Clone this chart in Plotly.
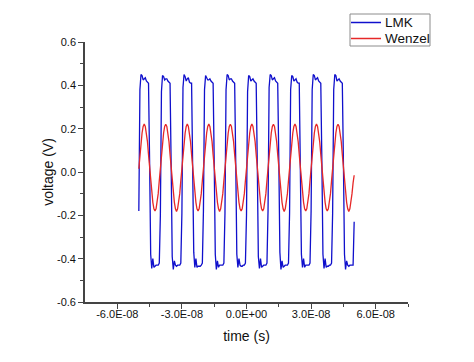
import plotly.graph_objects as go

# time samples in ns (0.5 ns step)
time_ns = [
    -50.0, -49.5, -49.0, -48.5, -48.0, -47.5, -47.0, -46.5, -46.0, -45.5,
    -45.0, -44.5, -44.0, -43.5, -43.0, -42.5, -42.0, -41.5, -41.0, -40.5,
    -40.0, -39.5, -39.0, -38.5, -38.0, -37.5, -37.0, -36.5, -36.0, -35.5,
    -35.0, -34.5, -34.0, -33.5, -33.0, -32.5, -32.0, -31.5, -31.0, -30.5,
    -30.0, -29.5, -29.0, -28.5, -28.0, -27.5, -27.0, -26.5, -26.0, -25.5,
    -25.0, -24.5, -24.0, -23.5, -23.0, -22.5, -22.0, -21.5, -21.0, -20.5,
    -20.0, -19.5, -19.0, -18.5, -18.0, -17.5, -17.0, -16.5, -16.0, -15.5,
    -15.0, -14.5, -14.0, -13.5, -13.0, -12.5, -12.0, -11.5, -11.0, -10.5,
    -10.0, -9.5, -9.0, -8.5, -8.0, -7.5, -7.0, -6.5, -6.0, -5.5,
    -5.0, -4.5, -4.0, -3.5, -3.0, -2.5, -2.0, -1.5, -1.0, -0.5,
    0.0, 0.5, 1.0, 1.5, 2.0, 2.5, 3.0, 3.5, 4.0, 4.5,
    5.0, 5.5, 6.0, 6.5, 7.0, 7.5, 8.0, 8.5, 9.0, 9.5,
    10.0, 10.5, 11.0, 11.5, 12.0, 12.5, 13.0, 13.5, 14.0, 14.5,
    15.0, 15.5, 16.0, 16.5, 17.0, 17.5, 18.0, 18.5, 19.0, 19.5,
    20.0, 20.5, 21.0, 21.5, 22.0, 22.5, 23.0, 23.5, 24.0, 24.5,
    25.0, 25.5, 26.0, 26.5, 27.0, 27.5, 28.0, 28.5, 29.0, 29.5,
    30.0, 30.5, 31.0, 31.5, 32.0, 32.5, 33.0, 33.5, 34.0, 34.5,
    35.0, 35.5, 36.0, 36.5, 37.0, 37.5, 38.0, 38.5, 39.0, 39.5,
    40.0, 40.5, 41.0, 41.5, 42.0, 42.5, 43.0, 43.5, 44.0, 44.5,
    45.0, 45.5, 46.0, 46.5, 47.0, 47.5, 48.0, 48.5, 49.0, 49.5,
    50.0,
]

# LMK voltage (V)
lmk_v = [
    -0.18, 0.38, 0.45, 0.445, 0.425, 0.43, 0.435, 0.42, 0.415, 0.41,
    0.05, -0.38, -0.445, -0.40, -0.44, -0.435, -0.43, -0.43, -0.43, -0.42,
    -0.20, 0.37, 0.445, 0.44, 0.425, 0.43, 0.43, 0.42, 0.415, 0.41,
    0.04, -0.39, -0.45, -0.41, -0.43, -0.435, -0.43, -0.43, -0.43, -0.42,
    -0.19, 0.39, 0.45, 0.44, 0.42, 0.43, 0.435, 0.415, 0.41, 0.41,
    0.06, -0.37, -0.44, -0.40, -0.44, -0.435, -0.435, -0.435, -0.43, -0.42,
    -0.18, 0.38, 0.445, 0.435, 0.425, 0.425, 0.43, 0.42, 0.415, 0.41,
    0.05, -0.38, -0.45, -0.41, -0.44, -0.43, -0.43, -0.43, -0.43, -0.42,
    -0.19, 0.38, 0.45, 0.445, 0.425, 0.43, 0.43, 0.42, 0.415, 0.41,
    0.05, -0.38, -0.44, -0.40, -0.43, -0.435, -0.435, -0.43, -0.43, -0.42,
    -0.20, 0.37, 0.445, 0.44, 0.42, 0.425, 0.43, 0.42, 0.415, 0.41,
    0.04, -0.39, -0.445, -0.40, -0.44, -0.435, -0.43, -0.43, -0.43, -0.42,
    -0.18, 0.39, 0.45, 0.445, 0.425, 0.43, 0.435, 0.42, 0.415, 0.41,
    0.06, -0.37, -0.45, -0.41, -0.44, -0.435, -0.43, -0.43, -0.43, -0.42,
    -0.19, 0.38, 0.445, 0.44, 0.42, 0.425, 0.43, 0.415, 0.41, 0.41,
    0.05, -0.38, -0.44, -0.40, -0.44, -0.43, -0.43, -0.43, -0.43, -0.42,
    -0.18, 0.38, 0.45, 0.445, 0.425, 0.43, 0.435, 0.42, 0.415, 0.41,
    0.05, -0.38, -0.445, -0.40, -0.44, -0.435, -0.435, -0.43, -0.43, -0.42,
    -0.19, 0.38, 0.45, 0.445, 0.42, 0.425, 0.43, 0.42, 0.415, 0.41,
    0.05, -0.38, -0.45, -0.41, -0.43, -0.435, -0.43, -0.43, -0.43, -0.43,
    -0.23,
]

# Wenzel voltage (V)
wenzel_v = [
    0.015, 0.08, 0.14, 0.18, 0.21, 0.222, 0.21, 0.18, 0.14, 0.08,
    0.02, -0.04, -0.10, -0.14, -0.17, -0.18, -0.17, -0.14, -0.10, -0.04,
    0.02, 0.08, 0.14, 0.18, 0.21, 0.22, 0.21, 0.18, 0.14, 0.08,
    0.02, -0.04, -0.10, -0.14, -0.17, -0.182, -0.17, -0.14, -0.10, -0.04,
    0.02, 0.08, 0.14, 0.18, 0.21, 0.222, 0.21, 0.18, 0.14, 0.08,
    0.02, -0.04, -0.10, -0.14, -0.17, -0.18, -0.17, -0.14, -0.10, -0.04,
    0.02, 0.08, 0.14, 0.18, 0.21, 0.222, 0.21, 0.18, 0.14, 0.08,
    0.02, -0.04, -0.10, -0.14, -0.17, -0.182, -0.17, -0.14, -0.10, -0.04,
    0.02, 0.08, 0.14, 0.18, 0.21, 0.22, 0.21, 0.18, 0.14, 0.08,
    0.02, -0.04, -0.10, -0.14, -0.17, -0.18, -0.17, -0.14, -0.10, -0.04,
    0.02, 0.08, 0.14, 0.18, 0.21, 0.222, 0.21, 0.18, 0.14, 0.08,
    0.02, -0.04, -0.10, -0.14, -0.17, -0.18, -0.17, -0.14, -0.10, -0.04,
    0.02, 0.08, 0.14, 0.18, 0.21, 0.22, 0.21, 0.18, 0.14, 0.08,
    0.02, -0.04, -0.10, -0.14, -0.17, -0.182, -0.17, -0.14, -0.10, -0.04,
    0.02, 0.08, 0.14, 0.18, 0.21, 0.222, 0.21, 0.18, 0.14, 0.08,
    0.02, -0.04, -0.10, -0.14, -0.17, -0.18, -0.17, -0.14, -0.10, -0.04,
    0.02, 0.08, 0.14, 0.18, 0.21, 0.222, 0.21, 0.18, 0.14, 0.08,
    0.02, -0.04, -0.10, -0.14, -0.17, -0.18, -0.17, -0.14, -0.10, -0.04,
    0.02, 0.08, 0.14, 0.18, 0.21, 0.22, 0.21, 0.18, 0.14, 0.08,
    0.02, -0.04, -0.10, -0.14, -0.17, -0.182, -0.17, -0.14, -0.10, -0.05,
    -0.015,
]

series_names = ["LMK", "Wenzel"]
series_colors = ["#1010CC", "#E62828"]

x_tick_vals = [-60, -30, 0, 30, 60]
x_tick_labels = ["-6.0E-08", "-3.0E-08", "0.0E+00", "3.0E-08", "6.0E-08"]
x_minor_vals = [-45, -15, 15, 45, 75]
y_tick_vals = [-0.6, -0.4, -0.2, 0.0, 0.2, 0.4, 0.6]
y_tick_labels = ["-0.6", "-0.4", "-0.2", "0.0", "0.2", "0.4", "0.6"]
y_minor_vals = [-0.5, -0.3, -0.1, 0.1, 0.3, 0.5]

FONT = "Liberation Sans, Arial, sans-serif"
AXIS_COLOR = "#444444"

fig = go.Figure()
for name, yv, col in zip(series_names, [lmk_v, wenzel_v], series_colors):
    fig.add_trace(go.Scatter(x=time_ns, y=yv, mode="lines", name=name,
                             showlegend=False,
                             line=dict(color=col, width=1.3)))

# page body has an 8px margin: figure drawn at (8, 8)
fig.update_layout(
    width=466, height=354,
    margin=dict(l=77, r=66, t=34, b=60, autoexpand=False),
    paper_bgcolor="white", plot_bgcolor="white",
    font=dict(family=FONT, color="#111111", size=11),
    showlegend=False,
)

# legend box drawn in paper coordinates (plot area 323 x 260 px)
def px(xp):
    return (xp - 85) / 323.0


def py(yp):
    return (302 - yp) / 260.0


fig.add_shape(type="rect", xref="paper", yref="paper",
              x0=px(350), x1=px(430), y0=py(46), y1=py(14),
              line=dict(color="#8C8C8C", width=1), fillcolor="white",
              layer="above")
legend_rows = [22.5, 38.5]
for name, col, yr in zip(series_names, series_colors, legend_rows):
    fig.add_shape(type="line", xref="paper", yref="paper",
                  x0=px(351), x1=px(381), y0=py(yr), y1=py(yr),
                  line=dict(color=col, width=1.5), layer="above")
    fig.add_annotation(xref="paper", yref="paper", x=px(383), y=py(yr),
                       text=name, showarrow=False, xanchor="left",
                       yanchor="middle", font=dict(size=13.5, family=FONT,
                                                   color="#111111"))

fig.update_xaxes(
    range=[-75, 75], tickvals=x_tick_vals, ticktext=x_tick_labels,
    showline=True, linecolor=AXIS_COLOR, linewidth=1.6,
    ticks="outside", ticklen=5, tickwidth=1.3, tickcolor=AXIS_COLOR,
    minor=dict(ticks="outside", tickvals=x_minor_vals, ticklen=3,
               tickwidth=1.3, tickcolor=AXIS_COLOR),
    showgrid=False, zeroline=False,
    tickfont=dict(size=11), ticklabelstandoff=-4,
    title=dict(text="time (s)", font=dict(size=14), standoff=12),
)
fig.update_yaxes(
    range=[-0.6, 0.6], tickvals=y_tick_vals, ticktext=y_tick_labels,
    showline=True, linecolor=AXIS_COLOR, linewidth=1.6,
    ticks="outside", ticklen=5, tickwidth=1.3, tickcolor=AXIS_COLOR,
    minor=dict(ticks="outside", tickvals=y_minor_vals, ticklen=3,
               tickwidth=1.3, tickcolor=AXIS_COLOR),
    showgrid=False, zeroline=False,
    tickfont=dict(size=11),
    title=dict(text="voltage (V)", font=dict(size=14), standoff=0),
)

fig.write_html("out.html")
